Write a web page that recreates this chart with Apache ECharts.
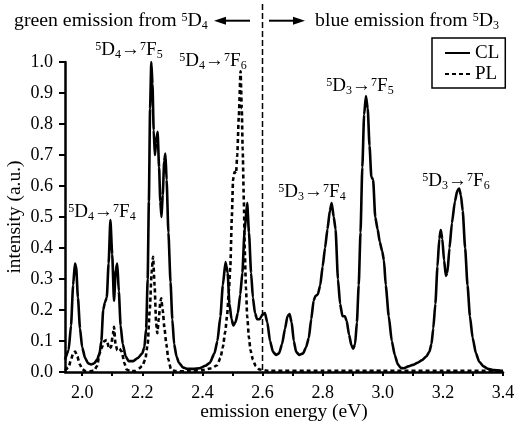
<!DOCTYPE html>
<html><head><meta charset="utf-8">
<script src="https://cdn.jsdelivr.net/npm/echarts@6/dist/echarts.min.js"></script>
<style>html,body{margin:0;padding:0;background:#fff}#c{width:520px;height:425px}</style>
</head><body><div id="c"></div>
<script>
// ---------- data ----------
const clEnergy = [1.943,1.955,1.963,1.970,1.976,1.980,1.986,1.993,2.000,2.010,2.020,2.030,2.040,2.050,2.058,2.064,2.070,2.076,2.082,2.088,2.094,2.100,2.106,2.112,2.117,2.122,2.128,2.135,2.145,2.155,2.170,2.185,2.200,2.207,2.213,2.218,2.222,2.226,2.230,2.234,2.238,2.242,2.246,2.251,2.256,2.260,2.264,2.268,2.273,2.277,2.281,2.287,2.294,2.300,2.306,2.314,2.322,2.335,2.350,2.370,2.390,2.410,2.425,2.440,2.450,2.460,2.468,2.477,2.484,2.490,2.497,2.503,2.510,2.518,2.526,2.533,2.540,2.549,2.555,2.562,2.568,2.575,2.582,2.590,2.600,2.608,2.616,2.625,2.635,2.645,2.655,2.665,2.675,2.683,2.690,2.697,2.704,2.712,2.722,2.735,2.745,2.754,2.762,2.770,2.776,2.784,2.792,2.800,2.808,2.816,2.824,2.830,2.837,2.843,2.851,2.858,2.866,2.874,2.880,2.888,2.896,2.902,2.908,2.914,2.920,2.926,2.932,2.938,2.944,2.950,2.956,2.962,2.968,2.975,2.983,2.990,2.998,3.004,3.010,3.020,3.030,3.040,3.050,3.060,3.070,3.085,3.100,3.116,3.130,3.145,3.155,3.162,3.168,3.175,3.182,3.188,3.193,3.198,3.204,3.210,3.215,3.222,3.230,3.240,3.248,3.254,3.260,3.266,3.274,3.282,3.290,3.299,3.310,3.321,3.335,3.350,3.370,3.400];
const clIntensity = [0.04,0.07,0.15,0.28,0.35,0.34,0.24,0.14,0.08,0.045,0.028,0.024,0.028,0.04,0.06,0.10,0.20,0.225,0.24,0.35,0.49,0.38,0.23,0.33,0.35,0.26,0.15,0.09,0.05,0.035,0.035,0.045,0.06,0.08,0.14,0.30,0.55,0.85,1.00,0.93,0.78,0.70,0.74,0.775,0.66,0.55,0.50,0.57,0.68,0.705,0.62,0.45,0.29,0.17,0.09,0.05,0.03,0.015,0.01,0.01,0.012,0.02,0.03,0.06,0.10,0.18,0.28,0.355,0.32,0.22,0.17,0.15,0.16,0.19,0.25,0.32,0.45,0.545,0.45,0.32,0.24,0.19,0.17,0.17,0.185,0.19,0.16,0.10,0.065,0.055,0.06,0.09,0.14,0.18,0.187,0.16,0.10,0.065,0.055,0.06,0.08,0.11,0.17,0.23,0.245,0.25,0.28,0.34,0.40,0.46,0.52,0.545,0.50,0.46,0.30,0.22,0.18,0.18,0.165,0.12,0.085,0.075,0.09,0.16,0.28,0.45,0.66,0.83,0.89,0.85,0.73,0.63,0.62,0.50,0.46,0.42,0.39,0.36,0.28,0.18,0.10,0.055,0.025,0.013,0.012,0.018,0.023,0.03,0.038,0.05,0.065,0.09,0.14,0.22,0.34,0.43,0.458,0.43,0.36,0.31,0.32,0.40,0.48,0.55,0.585,0.592,0.57,0.52,0.40,0.28,0.18,0.11,0.06,0.033,0.018,0.01,0.006,0.003];
const plEnergy = [1.943,1.955,1.963,1.970,1.977,1.984,1.992,2.000,2.010,2.025,2.040,2.050,2.058,2.066,2.074,2.082,2.090,2.096,2.102,2.106,2.111,2.117,2.124,2.132,2.140,2.148,2.160,2.175,2.190,2.200,2.210,2.218,2.225,2.231,2.236,2.241,2.246,2.250,2.255,2.260,2.263,2.268,2.274,2.280,2.287,2.295,2.310,2.350,2.400,2.430,2.449,2.460,2.468,2.476,2.482,2.488,2.493,2.498,2.502,2.507,2.512,2.516,2.521,2.527,2.531,2.534,2.538,2.541,2.545,2.549,2.555,2.560,2.568,2.577,2.590,2.620,2.800,3.000,3.200,3.400];
const plIntensity = [0.005,0.015,0.04,0.06,0.066,0.05,0.025,0.01,0.003,0.002,0.005,0.02,0.06,0.08,0.10,0.103,0.075,0.08,0.12,0.146,0.09,0.07,0.075,0.066,0.03,0.008,0.003,0.003,0.012,0.02,0.04,0.09,0.20,0.32,0.372,0.28,0.16,0.125,0.17,0.225,0.238,0.20,0.14,0.09,0.04,0.01,0.003,0.002,0.006,0.012,0.022,0.045,0.08,0.13,0.18,0.26,0.34,0.50,0.62,0.645,0.64,0.70,0.82,0.97,0.85,0.72,0.55,0.39,0.27,0.18,0.11,0.07,0.04,0.02,0.008,0.004,0.004,0.004,0.004,0.004];
const seriesNames = ['CL', 'PL'];
const xTickValues = [2.0,2.1,2.2,2.3,2.4,2.5,2.6,2.7,2.8,2.9,3.0,3.1,3.2,3.3,3.4];
const xLabelValues = [2.0,2.2,2.4,2.6,2.8,3.0,3.2,3.4];
const xMin = 1.943, xMax = 3.4;
const yMin = 0, yMax = 1.0, yStep = 0.1;
const dividerEnergy = 2.6;
const xTitle = 'emission energy (eV)';
const yTitle = 'intensity (a.u.)';
const headerLeft = '{n|green emission from }{sup|5}{n|D}{sub|4}';
const headerRight = '{n|blue emission from }{sup|5}{n|D}{sub|3}';
const transitions = [
  {text:'{sup|5}{n|D}{sub|4}{n|→}{sup|7}{n|F}{sub|5}', x:129, y:50},
  {text:'{sup|5}{n|D}{sub|4}{n|→}{sup|7}{n|F}{sub|6}', x:213, y:61},
  {text:'{sup|5}{n|D}{sub|4}{n|→}{sup|7}{n|F}{sub|4}', x:102, y:212},
  {text:'{sup|5}{n|D}{sub|3}{n|→}{sup|7}{n|F}{sub|4}', x:312, y:192},
  {text:'{sup|5}{n|D}{sub|3}{n|→}{sup|7}{n|F}{sub|5}', x:360, y:86},
  {text:'{sup|5}{n|D}{sub|3}{n|→}{sup|7}{n|F}{sub|6}', x:456, y:181}
];
// -------------------------------------------------------------
const FONT = '"Liberation Serif","Times New Roman",serif';
const makeRich = (size) => ({
  n:{fontFamily:FONT, fontSize:size, lineHeight:22, fill:'#000'},
  sup:{fontFamily:FONT, fontSize:12, lineHeight:12, verticalAlign:'top', padding:[2,0,0,0], fill:'#000'},
  sub:{fontFamily:FONT, fontSize:12, lineHeight:12, verticalAlign:'bottom', fill:'#000'}
});
const rich = makeRich(19);
const headerRich = makeRich(19.8);
const zip = (a,b) => a.map((v,i)=>[v,b[i]]);
const chart = echarts.init(document.getElementById('c'), null, {renderer:'canvas'});
const axisCommon = {
  axisLine:{show:true, onZero:false, lineStyle:{color:'#000', width:2.5}},
  splitLine:{show:false},
  nameMoveOverlap:false,
  nameTextStyle:{fontFamily:FONT, fontSize:19.5, color:'#000'}
};
chart.setOption({
  animation:false,
  backgroundColor:'#fff',
  grid:{left:65, right:17, top:62, bottom:53, containLabel:false, outerBoundsMode:'none'},
  legend:{
    data:seriesNames, orient:'vertical', left:432, top:38,
    borderColor:'#000', borderWidth:1.5, padding:[5,6,4,12],
    itemWidth:25, itemHeight:14, itemGap:1,
    itemStyle:{opacity:0},
    textStyle:{fontFamily:FONT, fontSize:19, color:'#000', lineHeight:20}
  },
  xAxis:Object.assign({}, axisCommon, {
    type:'value', min:xMin, max:xMax, name:xTitle, nameLocation:'middle', nameGap:30,
    axisTick:{show:true, inside:false, length:4, lineStyle:{color:'#000', width:2}, customValues:xTickValues},
    axisLabel:{customValues:xLabelValues, margin:12, fontFamily:FONT, fontSize:18, color:'#000',
      formatter:v=>Number(v).toFixed(1)}
  }),
  yAxis:Object.assign({}, axisCommon, {
    type:'value', min:yMin, max:yMax, interval:yStep, name:yTitle, nameLocation:'middle', nameGap:40,
    axisTick:{show:true, inside:false, length:6, lineStyle:{color:'#000', width:2}},
    axisLabel:{margin:12, fontFamily:FONT, fontSize:18, color:'#000', formatter:v=>Number(v).toFixed(1)}
  }),
  series:[
    {name:seriesNames[0], type:'line', data:zip(clEnergy, clIntensity), symbol:'none', showSymbol:false,
     smooth:0.2, smoothMonotone:'x', itemStyle:{color:'#000'}, lineStyle:{color:'#000', width:2.6}, z:3},
    {name:seriesNames[1], type:'line', data:zip(plEnergy, plIntensity), symbol:'none', showSymbol:false,
     smooth:0.2, smoothMonotone:'x', itemStyle:{color:'#000'}, lineStyle:{color:'#000', width:2.6, type:[4,3]}, z:2}
  ]
});
const xd = chart.convertToPixel({xAxisIndex:0}, dividerEnergy);
const y0 = chart.convertToPixel({yAxisIndex:0}, yMin);
const graphics = [
  {type:'line', shape:{x1:xd, y1:4, x2:xd, y2:y0}, style:{stroke:'#000', lineWidth:1.5, lineDash:[6,3]}, z:1},
  {type:'text', x:14, y:20.6, style:{text:headerLeft, rich:headerRich, align:'left', verticalAlign:'middle'}},
  {type:'text', x:315, y:20.6, style:{text:headerRight, rich:headerRich, align:'left', verticalAlign:'middle'}},
  {type:'line', shape:{x1:250, y1:20.7, x2:222, y2:20.7}, style:{stroke:'#000', lineWidth:2}},
  {type:'polygon', shape:{points:[[214,20.7],[226,16.7],[226,24.7]]}, style:{fill:'#000'}},
  {type:'line', shape:{x1:269, y1:20.7, x2:297, y2:20.7}, style:{stroke:'#000', lineWidth:2}},
  {type:'polygon', shape:{points:[[305,20.7],[293,16.7],[293,24.7]]}, style:{fill:'#000'}}
];
transitions.forEach(t => graphics.push({type:'text', x:t.x, y:t.y, z:10,
  style:{text:t.text, rich:rich, align:'center', verticalAlign:'middle'}}));
chart.setOption({graphic:graphics});
</script></body></html>
